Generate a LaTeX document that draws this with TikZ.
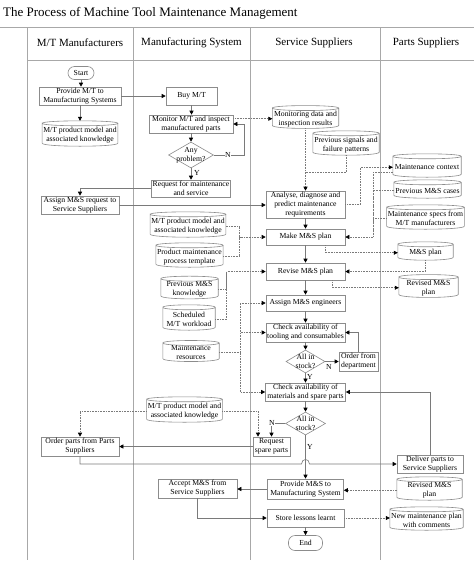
\documentclass[tikz,border=0pt]{standalone}
\usepackage{fontspec}
\setmainfont{Liberation Serif}
\usetikzlibrary{arrows.meta,shapes.geometric,calc}
\definecolor{bgray}{HTML}{8C8C8C}
\definecolor{lgray}{HTML}{7A7A7A}
\definecolor{lanegray}{HTML}{A8A8A8}
\newcommand\dstore[1]{\draw[bgray, line width=0.6pt] ($(#1.north west)+(0,-2.5)$) .. controls +(0,-3.3) and +(0,-3.3) .. ($(#1.north east)+(0,-2.5)$) .. controls +(0,3.3) and +(0,3.3) .. ($(#1.north west)+(0,-2.5)$) -- ($(#1.south west)+(0,-1.5)$) .. controls +(0,4) and +(0,4) .. ($(#1.south east)+(0,-1.5)$) -- ($(#1.north east)+(0,-2.5)$);}
\tikzset{
  base/.style={font=\fontsize{7.7}{9}\selectfont, align=center, inner sep=1pt, text=black},
  wh/.style 2 args={minimum width=#1pt, minimum height=#2pt},
  box/.style={base, draw=bgray, line width=0.6pt, fill=white, rectangle},
  term/.style={base, draw=bgray, line width=0.6pt, fill=white, rounded corners=6.5pt},
  store/.style={base, inner ysep=0pt},
  dia/.style={draw=bgray, line width=0.6pt, diamond, inner sep=0pt, fill=white},
  lbl/.style={base, fill=white, inner sep=0.5pt},
  conn/.style={draw=lgray, line width=0.6pt},
  arr/.style={conn, -{Triangle[length=4pt,width=4pt,color=black]}},
  dot/.style={conn, densely dotted},
  darr/.style={arr, densely dotted},
  lane/.style={draw=lanegray, line width=0.8pt},
  hdr/.style={font=\fontsize{11}{13}\selectfont, text=black},
  ttl/.style={font=\fontsize{13}{15}\selectfont, text=black}
}
\begin{document}
\begin{tikzpicture}[x=1pt, y=-1pt]
\useasboundingbox[fill=white] (0,0) rectangle (474,563);
% title and lanes
\node[ttl, anchor=west, inner sep=0pt] (title) at (3,13) {The Process of Machine Tool Maintenance Management};
\draw[lane] (0,27) -- (474,27);
\draw[lane] (27,60) -- (474,60);
\foreach \x in {27,133,250,380} \draw[lane] (\x,27) -- (\x,560);
\node[hdr] (h1) at (80,43) {M/T Manufacturers};
\node[hdr] (h2) at (191.5,43) {Manufacturing System};
\node[hdr] (h3) at (314,43) {Service Suppliers};
\node[hdr] (h4) at (426,43) {Parts Suppliers};

% lane 1
\node[term, wh={26}{13}] (st) at (81,73) {Start};
\node[box, wh={82}{18}] (pv) at (80,96) {Provide M/T to\\Manufacturing Systems};
\node[store, wh={75}{18.5}] (s1) at (80,135.25) {M/T product model and\\associated knowledge};
\node[box, wh={78}{18}] (as1) at (80,205) {Assign M\&S request to\\Service Suppliers};
\node[box, wh={78}{19}] (op) at (80,446.5) {Order parts from Parts\\Suppliers};

% lane 2
\node[box, wh={51}{18}] (buy) at (191.5,96) {Buy M/T};
\node[box, wh={84}{18}] (mon) at (191,124) {Monitor M/T and inspect\\manufactured parts};
\node[dia, wh={45}{26}] (d1) at (191,155) {};
\node[base] (d1t) at (d1) {Any\\problem?};
\node[box, wh={78}{17}] (req) at (191,188.5) {Request for maintenance\\and service};
\node[store, wh={72}{18.5}] (s2) at (188,226.25) {M/T product model and\\associated knowledge};
\node[store, wh={65}{17.5}] (tp) at (189.5,256.75) {Product maintenance\\process template};
\node[store, wh={57}{14.5}] (pk) at (189.5,289.25) {Previous M\&S\\knowledge};
\node[store, wh={52}{18.5}] (sw) at (189,319.25) {Scheduled\\M/T workload};
\node[store, wh={56}{13.5}] (mr) at (191,352.75) {Maintenance\\resources};
\node[store, wh={75}{18.5}] (s3) at (184.5,411.25) {M/T product model and\\associated knowledge};
\node[box, wh={79}{19}] (ac) at (197.5,488.5) {Accept M\&S from\\Service Suppliers};

% lane 3
\node[store, wh={66}{13.5}] (md) at (305.5,118.75) {Monitoring data and\\inspection results};
\node[store, wh={66}{17.5}] (ps) at (346,144.75) {Previous signals and\\failure patterns};
\node[box, wh={79}{25}] (an) at (305.5,204.5) {Analyse, diagnose and\\predict maintenance\\requirements};
\node[box, wh={79}{16}] (mk) at (305.5,237) {Make M\&S plan};
\node[box, wh={79}{17}] (rv) at (305.5,271.5) {Revise M\&S plan};
\node[box, wh={79}{16}] (ae) at (305.5,303) {Assign M\&S engineers};
\node[box, wh={79}{19}] (ct) at (305.5,332.5) {Check availability of\\tooling and consumables};
\node[dia, wh={39}{23}] (d2) at (305.5,361.5) {};
\node[base] (d2t) at (d2) {All in\\stock?};
\node[box, wh={39}{19}] (od) at (358.5,361.5) {Order from\\department};
\node[box, wh={80}{18}] (cm) at (305.5,392) {Check availability of\\materials and spare parts};
\node[dia, wh={40}{23}] (d3) at (305.5,423.5) {};
\node[base] (d3t) at (d3) {All in\\stock?};
\node[box, wh={37}{19}] (rs) at (271.5,446.5) {Request\\spare parts};
\node[box, wh={76}{20}] (pm) at (305.5,489) {Provide M\&S to\\Manufacturing System};
\node[box, wh={77}{18}] (sl) at (305.5,518) {Store lessons learnt};
\node[term, wh={34}{15}] (en) at (305.5,543) {End};

% lane 4
\node[store, wh={68}{16.5}] (mc) at (427,167.25) {Maintenance context};
\node[store, wh={67}{11.5}] (pc) at (427.5,190.75) {Previous M\&S cases};
\node[store, wh={75}{17.5}] (ms) at (425.5,218.75) {Maintenance specs from\\M/T manufacturers};
\node[store, wh={55}{11.5}] (mp) at (425.5,252.75) {M\&S plan};
\node[store, wh={59}{15.5}] (rp) at (428.5,287.75) {Revised M\&S\\plan};
\node[box, wh={66}{18}] (dp) at (430,464) {Deliver parts to\\Service Suppliers};
\node[store, wh={65}{16.5}] (rp2) at (429.5,490.25) {Revised M\&S\\plan};
\node[store, wh={73}{16.5}] (np) at (426.5,520.25) {New maintenance plan\\with comments};

% store outlines
\foreach \s in {s1,s2,tp,pk,sw,mr,s3,md,ps,mc,pc,ms,mp,rp,rp2,np} {\dstore{\s}}

% junction coordinates
\coordinate (j1) at ($(mk.east)+(28,0)$);
\coordinate (j2) at ($(mk.west)+(-26,0)$);
\coordinate (j3) at ($(rv.west)+(-39,0)$);
\coordinate (jr) at ($(mr.east)+(21,0)$);
\coordinate (jm) at ($(an.north)+(0,-18)$);

% main flow
\draw[arr] (st.south) -- (st.south |- pv.north);
\draw[arr] (pv.south) -- ([yshift=5pt]s1.north);
\draw[arr] (pv.east) -- (buy.west);
\draw[arr] (buy.south) -- (buy.south |- mon.north);
\draw[arr] (mon.south) -- (d1.north);
\draw[arr] (d1.south) -- (req.north);
\draw[arr] (d1.east) -- ++(30,0) |- (mon.east);
\draw[darr] (mon.east |- md.west) -- (md.west);
\draw[arr] (req.west) -| (as1.north);
\draw[arr] (as1.east) -- (as1.east -| an.west);
\draw[darr] ([yshift=-1.5pt]md.south) -- (an.north);
\draw[dot] ([yshift=-1.5pt]ps.south) |- (jm);
\draw[darr] (an.east) -- ++(15,0) |- (mc.west);
\draw[arr] (an.south) -- (mk.north);
\draw[darr] ([yshift=-5pt]mc.west) -| (j1) -- (mk.east);
\draw[dot] (pc.west) -| (j1);
\draw[dot] (ms.west) -| (j1);
\draw[darr] (s2.east) -| (j2) -- (mk.west);
\draw[dot] (tp.east) -| (j2);
\draw[darr] ([xshift=20pt]mk.south) |- (mp.west);
\draw[arr] (mk.south) -- (rv.north);
\draw[darr] ([yshift=-1.5pt]mp.south) |- (rv.east);
\draw[darr] ([xshift=27pt]rv.south) |- (rp.west);
\draw[darr] (pk.east) -| (j3) -- (rv.west);
\draw[dot] (sw.east) -| (j3);
\draw[arr] (rv.south) -- (ae.north);
\draw[dot] (mr.east) -- (jr);
\draw[darr] (jr) |- (ae.west);
\draw[darr] (jr) |- (ct.west);
\draw[darr] (jr) |- (cm.west);
\draw[arr] (ae.south) -- (ct.north);
\draw[arr] (ct.south) -- (d2.north);
\draw[arr] (d2.east) -- (od.west);
\draw[arr] (od.north) |- (ct.east);
\draw[arr] (d2.south) -- (cm.north);
\draw[arr] (cm.south) -- (d3.north);
\draw[arr] (d3.west) -| (rs.north);
\draw[darr] (s3.east) -| ([xshift=-13.5pt]rs.north);
\draw[darr] (s3.west) -| (op.north);
\draw[arr] (rs.west) -- (rs.west -| op.east);
\draw[arr] (op.south) |- ($(d3.south |- dp.west)+(-4,0)$) .. controls +(0,-6) and +(0,-6) .. ($(d3.south |- dp.west)+(4,0)$) -- (dp.west);
\draw[arr] (dp.north) |- (cm.east);
\draw[arr] (d3.south) -- (pm.north);
\draw[darr] (rp2.west) -- (rp2.west -| pm.east);
\draw[arr] (pm.west) -- (pm.west -| ac.east);
\draw[arr] (ac.south) |- (sl.west);
\draw[darr] (sl.east) -- (sl.east -| np.west);
\draw[arr] (sl.south) -- (en.north);

% branch labels
\node[lbl] (n1) at (228,155) {N};
\node[base, inner sep=0pt] (y1) at (197,173) {Y};
\node[base, inner sep=0pt] (n2) at (329,367) {N};
\node[base, inner sep=0pt] (y2) at (310,377) {Y};
\node[lbl] (n3) at (272,423) {N};
\node[base, inner sep=0pt] (y3) at (310,447) {Y};
\end{tikzpicture}
\end{document}
